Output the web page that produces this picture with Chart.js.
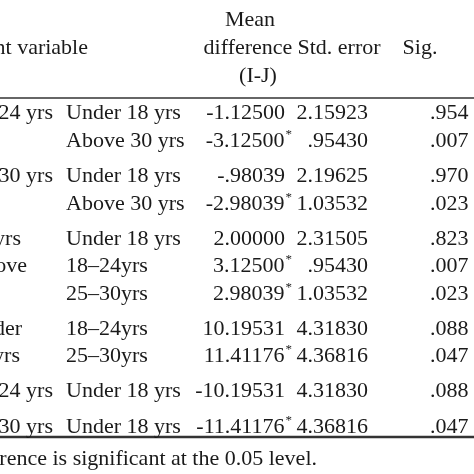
<!DOCTYPE html>
<html>
<head>
<meta charset="utf-8">
<script src="https://cdn.jsdelivr.net/npm/chart.js@4"></script>
<style>
  body { margin: 0; background: #fff; }
  #wrap { width: 474px; height: 474px; }
</style>
</head>
<body>
<div id="wrap"><canvas id="tbl"></canvas></div>
<script>
// table data
const groupLabels = ['18–24 yrs', '', '25–30 yrs', '', '30yrs', 'Above', '', 'Under', '18yrs', '18–24 yrs', '25–30 yrs'];
const compareLabels = ['Under 18 yrs', 'Above 30 yrs', 'Under 18 yrs', 'Above 30 yrs', 'Under 18 yrs', '18–24yrs', '25–30yrs', '18–24yrs', '25–30yrs', 'Under 18 yrs', 'Under 18 yrs'];
const meanDiff = ['-1.12500', '-3.12500*', '-.98039', '-2.98039*', '2.00000', '3.12500*', '2.98039*', '10.19531', '11.41176*', '-10.19531', '-11.41176*'];
const stdError = ['2.15923', '.95430', '2.19625', '1.03532', '2.31505', '.95430', '1.03532', '4.31830', '4.36816', '4.31830', '4.36816'];
const sig = ['.954', '.007', '.970', '.023', '.823', '.007', '.023', '.088', '.047', '.088', '.047'];

// layout (pixels in the 474 box)
const rowY = [113, 141, 176, 204, 239, 266, 294, 329, 356, 391, 427];
const groupRight = [53, 0, 53, 0, 21, 27, 0, 22, 20, 53, 53];
const FONT = '"Liberation Serif", "DejaVu Serif", serif';
const SIZE = '22px ';

const tablePlugin = {
  id: 'tableText',
  afterDraw(chart) {
    const ctx = chart.ctx;
    const xs = chart.scales.x, ys = chart.scales.y;
    const px = v => xs.getPixelForValue(v);
    const py = v => ys.getPixelForValue(v);
    ctx.save();
    ctx.fillStyle = '#1a1a1a';
    ctx.textBaseline = 'middle';
    ctx.font = SIZE + FONT;

    // header
    ctx.textAlign = 'center';
    ctx.fillText('Mean', px(250), py(20));
    ctx.fillText('difference', px(248), py(48));
    ctx.fillText('(I-J)', px(258), py(76));
    ctx.fillText('Std. error', px(339), py(48));
    ctx.fillText('Sig.', px(420), py(48));
    ctx.textAlign = 'right';
    ctx.fillText('Dependent variable', px(88), py(48));

    // rules
    ctx.strokeStyle = '#333';
    ctx.lineWidth = 1.5;
    ctx.beginPath();
    ctx.moveTo(px(0), py(98)); ctx.lineTo(px(474), py(98));
    ctx.stroke();
    ctx.lineWidth = 2.5;
    ctx.beginPath();
    ctx.moveTo(px(0), py(437)); ctx.lineTo(px(474), py(437));
    ctx.stroke();

    const withStar = (s, xRight, y) => {
      const star = s.endsWith('*');
      const base = star ? s.slice(0, -1) : s;
      ctx.textAlign = 'right';
      if (star) {
        ctx.font = '13px ' + FONT;
        ctx.fillText('*', xRight, y - 6);
        const w = ctx.measureText('*').width;
        ctx.font = SIZE + FONT;
        ctx.fillText(base, xRight - w - 1, y);
      } else {
        ctx.fillText(base, xRight - 7, y);
      }
    };

    rowY.forEach((y, i) => {
      const yy = py(y);
      ctx.font = SIZE + FONT;
      if (groupLabels[i]) {
        ctx.textAlign = 'right';
        ctx.fillText(groupLabels[i], px(groupRight[i]), yy);
      }
      ctx.textAlign = 'left';
      ctx.fillText(compareLabels[i], px(66), yy);
      withStar(meanDiff[i], px(292), yy);
      ctx.textAlign = 'right';
      ctx.fillText(stdError[i], px(368), yy);
      ctx.textAlign = 'left';
      ctx.fillText(sig[i], px(430), yy);
    });

    ctx.textAlign = 'right';
    ctx.fillText('*The mean difference is significant at the 0.05 level.', px(317), py(459));
    ctx.restore();
  }
};

new Chart(document.getElementById('tbl'), {
  type: 'scatter',
  data: { datasets: [{ data: rowY.map((y, i) => ({ x: 430, y })), pointRadius: 0 }] },
  options: {
    responsive: true,
    maintainAspectRatio: false,
    animation: false,
    layout: { padding: 0 },
    plugins: { legend: { display: false }, tooltip: { enabled: false } },
    scales: {
      x: { type: 'linear', min: 0, max: 474, display: false },
      y: { type: 'linear', min: 0, max: 474, reverse: true, display: false }
    }
  },
  plugins: [tablePlugin]
});
</script>
</body>
</html>
